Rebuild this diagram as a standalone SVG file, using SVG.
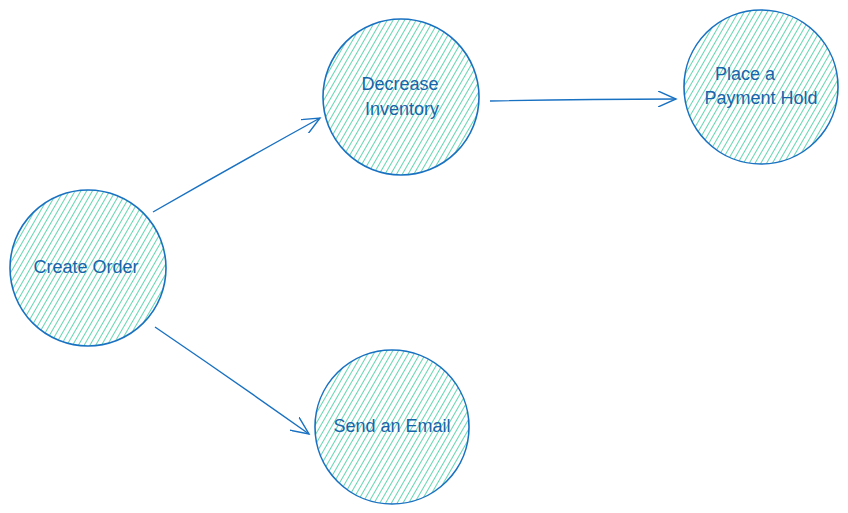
<svg xmlns="http://www.w3.org/2000/svg" width="848" height="513" viewBox="0 0 848 513">
<defs>
<pattern id="hatch" width="5" height="5" patternUnits="userSpaceOnUse" patternTransform="rotate(30)">
<line x1="0" y1="0" x2="0" y2="5" stroke="#2fc994" stroke-width="1.5"/>
</pattern>
<marker id="ah" markerWidth="20" markerHeight="16" refX="18" refY="8" orient="auto" markerUnits="userSpaceOnUse">
<path d="M0,0 L18,8 L0,16" fill="none" stroke="#1971c2" stroke-width="1.4"/>
</marker>
<style>
.n{fill:url(#hatch);stroke:#1971c2;stroke-width:1.6}
.t{font-family:"Comic Sans MS","Liberation Sans",sans-serif;font-size:18px;fill:#1864ab;text-anchor:middle}
.c{stroke:#1971c2;stroke-width:1.4;fill:none;marker-end:url(#ah)}
</style>
</defs>
<rect width="848" height="513" fill="#fff"/>
<g id="connectors">
<path class="c" d="M153,212 Q235,165 320,118"/>
<path class="c" d="M490,101 Q585,99 676,99"/>
<path class="c" d="M155,327 Q230,378 309,434"/>
</g>
<g id="create-order"><circle class="n" cx="88" cy="268" r="78"/><text class="t" x="86" y="273">Create Order</text></g>
<g id="decrease-inventory"><circle class="n" cx="401" cy="97" r="78"/><text class="t" x="400" y="90">Decrease</text><text class="t" x="402" y="115">Inventory</text></g>
<g id="payment-hold"><circle class="n" cx="761" cy="87" r="77"/><text class="t" x="745" y="80">Place a</text><text class="t" x="761" y="104">Payment Hold</text></g>
<g id="send-email"><circle class="n" cx="392" cy="427" r="77"/><text class="t" x="392" y="432">Send an Email</text></g>
</svg>
